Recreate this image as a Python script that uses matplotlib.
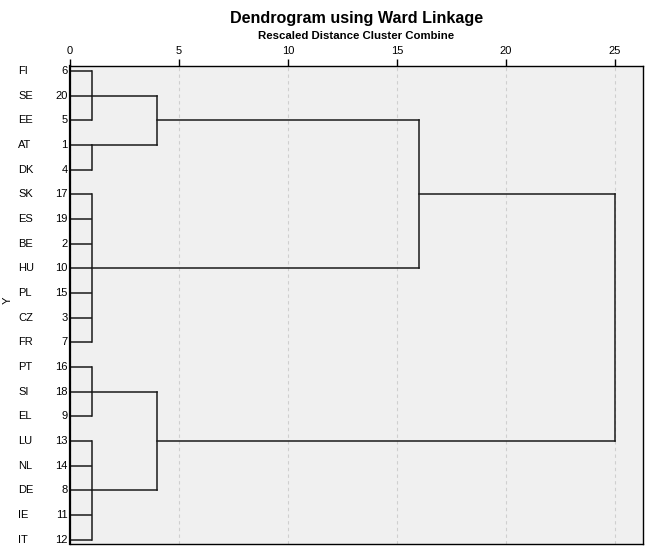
import numpy as np
import matplotlib.pyplot as plt

plt.rcParams['font.family'] = ['Liberation Sans', 'DejaVu Sans']

# leaves, top to bottom
countries = ['FI', 'SE', 'EE', 'AT', 'DK', 'SK', 'ES', 'BE', 'HU', 'PL',
             'CZ', 'FR', 'PT', 'SI', 'EL', 'LU', 'NL', 'DE', 'IE', 'IT']
case_ids = [6, 20, 5, 1, 4, 17, 19, 2, 10, 15, 3, 7, 16, 18, 9, 13, 14, 8, 11, 12]

# first level clusters (rows) and the rescaled distance where they join
groups = [[0, 1, 2], [3, 4], [5, 6, 7, 8, 9, 10, 11], [12, 13, 14], [15, 16, 17, 18, 19]]
group_height = [1, 1, 1, 1, 1]

# higher merges: (node a, node b, height); nodes 0-4 are groups, 5+ are merges
merges = [(0, 1, 4), (5, 2, 16), (3, 4, 4), (6, 7, 25)]

line_col = '#1a1a1a'
lw = 1.1

fig = plt.figure(figsize=(6.51, 5.51), dpi=100)
ax = fig.add_axes([70 / 651, 7 / 551, 573 / 651, 478 / 551])
ax.set_facecolor('#f0f0f0')

# leaf lines
for r in range(len(countries)):
    ax.plot([0, 1], [r, r], color=line_col, lw=lw, solid_capstyle='butt')

# anchor row and height of each node
anchor = []
height = []
for g, h in zip(groups, group_height):
    ax.plot([h, h], [g[0], g[-1]], color=line_col, lw=lw)
    anchor.append((g[0] + g[-1]) // 2)
    height.append(h)

for a, b, h in merges:
    ra, rb = anchor[a], anchor[b]
    ax.plot([height[a], h], [ra, ra], color=line_col, lw=lw)
    ax.plot([height[b], h], [rb, rb], color=line_col, lw=lw)
    ax.plot([h, h], [ra, rb], color=line_col, lw=lw)
    anchor.append((ra + rb) // 2)
    height.append(h)

ax.set_xlim(0, 26.28)
ax.set_ylim(19.17, -0.2)
ax.set_xticks([0, 5, 10, 15, 20, 25])
ax.xaxis.tick_top()
ax.tick_params(axis='x', length=5, width=1, labelsize=8, pad=2)
ax.set_yticks([])
ax.grid(axis='x', color='#cfcfcf', linestyle=(0, (3, 3)), linewidth=0.8)
ax.set_axisbelow(True)
for s in ax.spines.values():
    s.set_linewidth(1.0)
ax.spines['left'].set_linewidth(1.6)

# row labels
for r, (c, n) in enumerate(zip(countries, case_ids)):
    ax.text(-52 / 21.8, r, c, ha='left', va='center', fontsize=8, clip_on=False)
    ax.text(-0.12, r, str(n), ha='right', va='center', fontsize=8, clip_on=False)

fig.text(8 / 651, 1 - 300 / 551, 'Y', rotation=90, ha='center', va='center', fontsize=8)
fig.text(356.5 / 651, 1 - 18 / 551, 'Dendrogram using Ward Linkage', ha='center', va='center',
         fontsize=11.6, fontweight='bold')
fig.text(356.5 / 651, 1 - 36 / 551, 'Rescaled Distance Cluster Combine', ha='center', va='center',
         fontsize=8.2, fontweight='bold')

fig.savefig('out.png', dpi=100)
